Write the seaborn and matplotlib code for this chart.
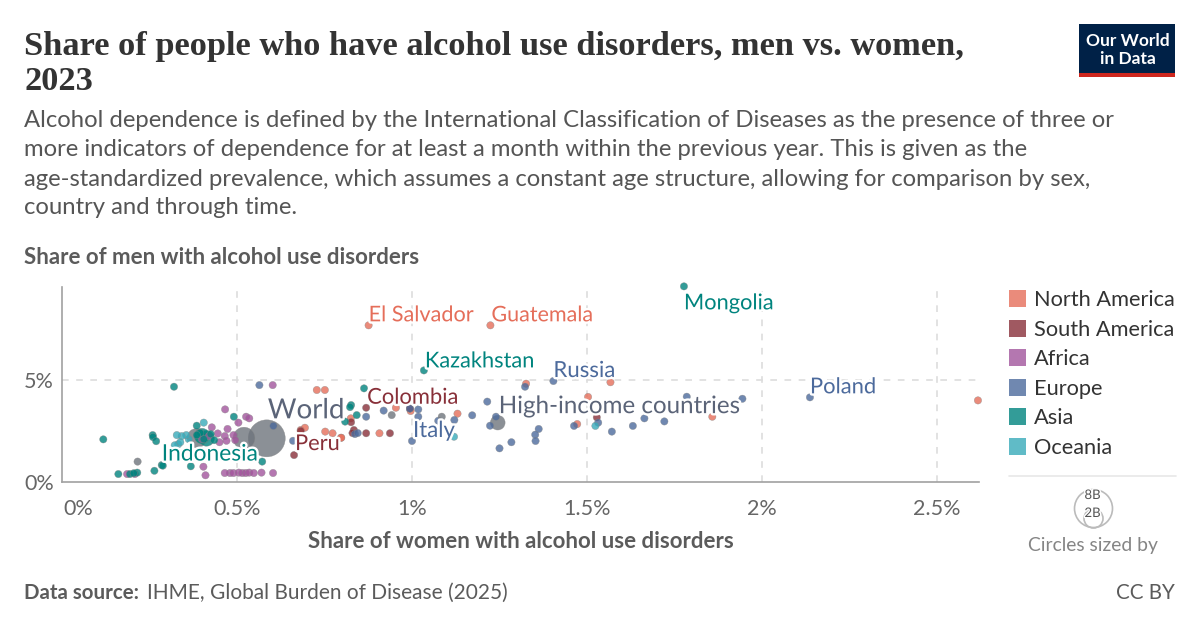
import matplotlib
matplotlib.use("Agg")
import matplotlib.pyplot as plt
import matplotlib.patheffects as pe
from matplotlib.patches import Rectangle
from matplotlib.lines import Line2D
import pandas as pd
import seaborn as sns

sns.set_theme(style="white")
plt.rcParams["font.family"] = ["Lato", "DejaVu Sans"]

# Share of women (x, %) and men (y, %) with alcohol use disorders, by continent
north_america_x = [0.728, 0.751, 0.694, 0.682, 0.752, 0.773, 0.797, 0.825, 0.907, 0.954, 0.996, 1.130,
                   1.326, 1.567, 1.503, 1.472, 1.858, 2.617, 0.798]
north_america_y = [4.51, 4.51, 2.66, 2.55, 2.47, 2.39, 2.17, 3.12, 2.39, 3.64, 3.48, 3.35,
                   4.82, 4.89, 4.17, 2.84, 3.20, 4.00, 2.17]
south_america_x = [0.826, 0.834, 0.869, 0.937, 0.994, 1.528, 0.682, 0.830]
south_america_y = [2.93, 2.55, 2.39, 2.39, 3.60, 3.17, 2.50, 2.40]
africa_x = [0.465, 0.480, 0.490, 0.505, 0.515, 0.525, 0.535, 0.548, 0.570, 0.603, 0.186, 0.208,
            0.404, 0.410, 0.466, 0.602, 0.428, 0.473, 0.504, 0.526, 0.535,
            0.445, 0.465, 0.450, 0.490, 0.470, 0.400, 0.495, 0.420]
africa_y = [0.44, 0.44, 0.44, 0.46, 0.44, 0.44, 0.46, 0.44, 0.46, 0.44, 0.39, 0.39,
            0.75, 0.33, 3.56, 4.75, 2.68, 2.60, 2.91, 3.20, 3.12,
            2.38, 2.25, 1.95, 2.30, 2.02, 2.10, 2.05, 2.25]
europe_x = [0.564, 0.604, 0.660, 0.837, 0.845, 0.869, 0.919, 0.994, 1.018, 1.018, 1.121, 1.172,
            1.215, 1.223, 1.240, 1.250, 1.284, 1.353, 1.352, 1.362, 1.323, 1.463, 1.532, 1.571,
            1.631, 1.664, 1.721, 1.785, 1.944, 1.075]
europe_y = [4.75, 2.75, 2.02, 2.35, 2.40, 3.20, 3.50, 3.60, 3.56, 3.20, 3.04, 3.27,
            3.94, 2.76, 3.20, 1.65, 1.95, 2.01, 2.32, 2.60, 4.67, 2.75, 2.91, 2.47,
            2.75, 3.12, 2.97, 4.18, 4.08, 3.00]
asia_x = [0.320, 0.118, 0.259, 0.260, 0.269, 0.385, 0.491, 0.161, 0.194, 0.205, 0.215, 0.264,
          0.368, 0.572, 0.809, 0.823, 0.826, 0.842, 0.863, 0.385, 0.395, 0.405, 0.425, 0.435, 0.288]
asia_y = [4.67, 2.09, 2.30, 2.20, 2.00, 2.76, 3.20, 0.39, 0.39, 0.43, 0.46, 0.55,
          0.77, 1.00, 2.96, 3.67, 3.77, 3.28, 4.59, 2.30, 2.40, 2.10, 2.35, 2.05, 0.80]
oceania_x = [0.405, 0.328, 0.342, 0.355, 0.362, 0.338, 0.322, 0.332, 1.120, 1.524]
oceania_y = [2.91, 2.30, 2.25, 2.30, 2.10, 1.95, 1.80, 1.85, 2.22, 2.75]

# Entities that carry a text label, with population in billions
labeled_names = ["El Salvador", "Guatemala", "Mongolia", "Kazakhstan", "Russia", "Poland",
                 "Colombia", "Italy", "Peru", "Indonesia", "High-income countries", "World"]
labeled_groups = ["North America", "North America", "Asia", "Asia", "Europe", "Europe",
                  "South America", "Europe", "South America", "Asia", "Income group", "Income group"]
labeled_x = [0.876, 1.224, 1.777, 1.034, 1.404, 2.137, 0.869, 1.000, 0.663, 0.285, 1.245, 0.585]
labeled_y = [7.68, 7.68, 9.59, 5.47, 4.95, 4.15, 3.64, 2.01, 1.32, 0.83, 2.91, 2.14]
labeled_pop = [0.006, 0.018, 0.003, 0.020, 0.145, 0.038, 0.052, 0.059, 0.034, 0.281, 1.25, 8.10]

# Aggregates and the most populous countries
other_groups = ["Income group", "Income group", "Income group", "Asia", "Asia", "Income group", "Income group"]
other_x = [0.520, 0.385, 0.216, 0.413, 0.400, 0.942, 1.085]
other_y = [2.15, 2.15, 1.00, 2.14, 2.25, 3.28, 3.20]
other_pop = [2.80, 2.20, 0.28, 1.44, 1.42, 0.02, 0.02]

palette = {"North America": "#E56E5A", "South America": "#883039", "Africa": "#A2559C",
           "Europe": "#4C6A9C", "Asia": "#00847E", "Oceania": "#38AABA", "Income group": "#6E747C"}
label_colors = {"North America": "#E56E5A", "South America": "#883039", "Asia": "#00847E",
                "Europe": "#4C6A9C", "Income group": "#5B6478"}
legend_groups = ["North America", "South America", "Africa", "Europe", "Asia", "Oceania"]

series = [("North America", north_america_x, north_america_y), ("South America", south_america_x, south_america_y),
          ("Africa", africa_x, africa_y), ("Europe", europe_x, europe_y),
          ("Asia", asia_x, asia_y), ("Oceania", oceania_x, oceania_y)]
rows = []
for group, xs, ys in series:
    rows += [(group, x, y, 0.02) for x, y in zip(xs, ys)]
rows += list(zip(labeled_groups, labeled_x, labeled_y, labeled_pop))
rows += list(zip(other_groups, other_x, other_y, other_pop))
df = pd.DataFrame(rows, columns=["group", "women", "men", "pop"]).sort_values("pop", ascending=False)
# Very small populations still get a visible dot
df["size"] = df["pop"].clip(lower=0.28)

W, H = 1200, 627
fig = plt.figure(figsize=(W / 100, H / 100), dpi=100, facecolor="white")
ax = fig.add_axes([62 / W, 1 - 482 / H, (979 - 62) / W, (482 - 287) / H])


def fx(px):
    return px / W


def fy(py):
    return 1 - py / H


def ty(py):
    # Lato's box centre sits slightly above the x-height centre
    return fy(py + 2)


sns.scatterplot(data=df, x="women", y="men", hue="group", palette=palette, size="size",
                sizes=(28, 710), size_norm=(0.28, 8.1), alpha=0.8, linewidth=0.3, edgecolor="#888888",
                legend=False, ax=ax, clip_on=False, zorder=3)

ax.set_xlim(0, 917 / 350)
ax.set_ylim(0, 195 / 20.4)
ax.set_xticks([0, 0.5, 1, 1.5, 2, 2.5])
ax.set_yticks([0, 5])
ax.set_xticklabels([])
ax.set_yticklabels([])
ax.set_xlabel("")
ax.set_ylabel("")
ax.tick_params(length=0)
for x in [0.5, 1, 1.5, 2, 2.5]:
    ax.axvline(x, color="#dddddd", lw=1.2, dashes=(4, 4.5), zorder=1)
ax.axhline(5, color="#dddddd", lw=1.2, dashes=(4, 4.5), zorder=1)
for side in ["top", "right"]:
    ax.spines[side].set_visible(False)
for side in ["left", "bottom"]:
    ax.spines[side].set_color("#a1a1a1")
    ax.spines[side].set_linewidth(1.2)

# Entity labels sit just off their marks, with a white halo over the crowd
label_style = {
    "El Salvador": (0, 10, 15.6), "Guatemala": (1, 10, 15.5), "Mongolia": (0, -17, 15.7),
    "Kazakhstan": (1, 9, 15.7), "Russia": (0, 10, 16.0), "Poland": (0, 10, 15.8),
    "Colombia": (1, 10, 15.8), "Italy": (1, 10, 16.0), "Peru": (1, 11, 15.7),
    "Indonesia": (0, 11, 16.4), "High-income countries": (1, 16, 17.4), "World": (1, 28, 20),
}
for name, group, x, y in zip(labeled_names, labeled_groups, labeled_x, labeled_y):
    dx, dy, size = label_style[name]
    ax.annotate(name, (x, y), xytext=(dx * 0.72, dy * 0.72), textcoords="offset points",
                color=label_colors[group], fontsize=size, ha="left", va="center", zorder=6,
                annotation_clip=False,
                path_effects=[pe.withStroke(linewidth=3.4, foreground="white")])

# Tick labels
tick_color = "#666666"
for px, text, ha in [(63, "0%", "left"), (237, "0.5%", "center"), (412, "1%", "center"),
                     (587, "1.5%", "center"), (762, "2%", "center"), (937, "2.5%", "center")]:
    fig.text(fx(px), ty(507), text, color=tick_color, fontsize=15.5, ha=ha, va="center")
for py, text in [(482, "0%"), (380, "5%")]:
    fig.text(fx(54), ty(py), text, color=tick_color, fontsize=15.5, ha="right", va="center")

fig.text(fx(24), ty(255), "Share of men with alcohol use disorders", color="#5b5b5b",
         fontsize=16.05, fontweight="bold", va="center")
fig.text(fx(521), ty(540), "Share of women with alcohol use disorders", color="#5b5b5b",
         fontsize=16.05, fontweight="bold", ha="center", va="center")

# Heading block
fig.text(fx(24), ty(44), "Share of people who have alcohol use disorders, men vs. women,",
         family=["Liberation Serif"], fontweight="bold", fontsize=24.75, color="#333333", va="center")
fig.text(fx(24), ty(79), "2023", family=["Liberation Serif"], fontweight="bold",
         fontsize=24.75, color="#333333", va="center")
subtitle = ["Alcohol dependence is defined by the International Classification of Diseases as the presence of three or",
            "more indicators of dependence for at least a month within the previous year. This is given as the",
            "age-standardized prevalence, which assumes a constant age structure, allowing for comparison by sex,",
            "country and through time."]
for py, line in zip([119, 148, 177, 206], subtitle):
    fig.text(fx(24), ty(py), line, color="#555555", fontsize=17.2, va="center")

# Colour legend
for py, group in zip([298, 328, 357, 387, 416, 446], legend_groups):
    fig.add_artist(Rectangle((fx(1009), fy(py + 8.5)), 17 / W, 17 / H, transform=fig.transFigure,
                             facecolor=palette[group], alpha=0.8, edgecolor="none"))
    fig.text(fx(1034), ty(py), group, color="#333333", fontsize=15.65, va="center")
fig.add_artist(Line2D([fx(1009), fx(1176)], [fy(476), fy(476)], color="#e7e7e7", lw=1.2))

# Size legend
cx = 1092.5
for cy, r in [(508, 19), (518, 9.5)]:
    fig.add_artist(Line2D([fx(cx)], [fy(cy)], marker="o", markersize=2 * r * 0.72, markerfacecolor="none",
                          markeredgecolor="#bbbbbb", markeredgewidth=1.2, linestyle="none"))
for py, text in [(493, "8B"), (511, "2B")]:
    t = fig.text(fx(cx), ty(py), text, color="#555555", fontsize=9.5, ha="center", va="center")
    t.set_path_effects([pe.withStroke(linewidth=2, foreground="white")])
fig.text(fx(cx), ty(543), "Circles sized by", color="#858585", fontsize=13.9, ha="center", va="center")

# Footer
fig.text(fx(24), ty(591), "Data source:", color="#5b5b5b", fontsize=14.75, fontweight="bold", va="center")
fig.text(fx(147), ty(591), "IHME, Global Burden of Disease (2025)", color="#5b5b5b", fontsize=15.0, va="center")
fig.text(fx(1175), ty(591), "CC BY", color="#5b5b5b", fontsize=14.85, ha="right", va="center")

# Logo
fig.add_artist(Rectangle((fx(1079), fy(77)), 96 / W, 53 / H, transform=fig.transFigure,
                         facecolor="#002147", edgecolor="none"))
fig.add_artist(Rectangle((fx(1079), fy(77)), 96 / W, 4 / H, transform=fig.transFigure,
                         facecolor="#CE261E", edgecolor="none"))
fig.text(fx(1127.5), ty(39), "Our World", color="white", fontsize=12.5, fontweight="bold", ha="center", va="center")
fig.text(fx(1127.5), ty(57), "in Data", color="white", fontsize=12.5, fontweight="bold", ha="center", va="center")

fig.savefig("out.png", dpi=100, facecolor="white")
